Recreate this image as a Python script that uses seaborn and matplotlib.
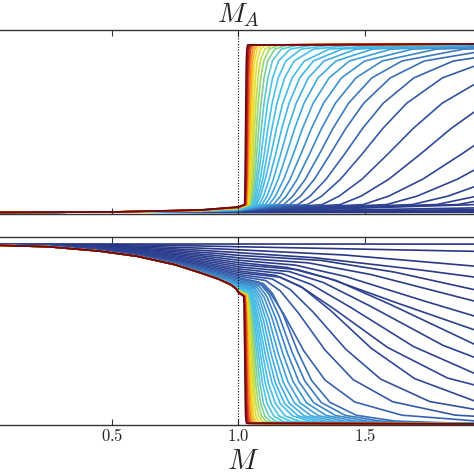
import matplotlib
matplotlib.use("Agg")
import matplotlib.pyplot as plt
import numpy as np
import pandas as pd
import seaborn as sns
from matplotlib.colors import LinearSegmentedColormap
from matplotlib.transforms import blended_transform_factory

# ---- data -----------------------------------------------------------------
# curve 0 = slowest (dark blue) ... curve 39 = sharpest (dark red)
n_curves = 40

# upper panel: shared start, value at M=0.85 and M=1, then the M where each
# curve crosses the levels in top_levels
top_left_m = [0.0, 0.5]
top_left_v = [0.003, 0.006]
top_v085 = [0.003, 0.004, 0.005, 0.005, 0.006, 0.006, 0.007, 0.007, 0.007, 0.008,
            0.008, 0.008, 0.009, 0.009, 0.009, 0.010, 0.010, 0.010, 0.011, 0.011,
            0.011, 0.012, 0.012, 0.012, 0.013, 0.013, 0.013, 0.014, 0.014, 0.014,
            0.015, 0.015, 0.015, 0.016, 0.016, 0.016, 0.017, 0.017, 0.018, 0.018]
top_v1 = [0.003, 0.004, 0.005, 0.006, 0.007, 0.008, 0.008, 0.009, 0.009, 0.010,
          0.010, 0.011, 0.011, 0.012, 0.012, 0.013, 0.013, 0.014, 0.015, 0.016,
          0.017, 0.018, 0.019, 0.020, 0.021, 0.022, 0.023, 0.024, 0.025, 0.026,
          0.027, 0.028, 0.029, 0.030, 0.031, 0.032, 0.033, 0.034, 0.035, 0.036]
top_levels = [0.05, 0.1, 0.2, 0.35, 0.5, 0.65, 0.8, 0.9, 0.97, 0.995]
top_cross = [
    [44.7, 60, 80, 100, 120, 140, 160, 180, 200, 220],
    [22.4, 40, 60, 80, 100, 120, 140, 160, 180, 200],
    [11.5, 20, 30, 40, 50, 60, 70, 80, 90, 100],
    [6.85, 10, 14, 18, 22, 26, 30, 34, 38, 42],
    [4.08, 6, 8, 10, 12, 14, 16, 18, 20, 22],
    [2.775, 3.5, 4.5, 5.5, 6.5, 7.5, 8.5, 9.5, 10.5, 11.5],
    [1.944, 2.137, 2.393, 2.688, 2.970, 3.299, 3.786, 4.412, 5.696, 8.407],
    [1.867, 2.044, 2.280, 2.551, 2.810, 3.112, 3.559, 4.135, 5.315, 7.806],
    [1.783, 1.943, 2.155, 2.400, 2.634, 2.907, 3.310, 3.830, 4.895, 7.144],
    [1.687, 1.828, 2.015, 2.230, 2.435, 2.675, 3.029, 3.485, 4.421, 6.396],
    [1.586, 1.706, 1.865, 2.049, 2.224, 2.428, 2.731, 3.120, 3.918, 5.602],
    [1.493, 1.594, 1.728, 1.883, 2.030, 2.202, 2.456, 2.784, 3.456, 4.873],
    [1.402, 1.485, 1.594, 1.720, 1.840, 1.980, 2.188, 2.455, 3.003, 4.158],
    [1.331, 1.398, 1.488, 1.591, 1.690, 1.805, 1.976, 2.195, 2.645, 3.594],
    [1.273, 1.329, 1.403, 1.489, 1.570, 1.665, 1.806, 1.987, 2.359, 3.143],
    [1.235, 1.283, 1.346, 1.420, 1.490, 1.572, 1.693, 1.849, 2.168, 2.842],
    [1.203, 1.245, 1.300, 1.363, 1.424, 1.495, 1.600, 1.734, 2.011, 2.594],
    [1.179, 1.215, 1.264, 1.320, 1.373, 1.435, 1.527, 1.646, 1.889, 2.402],
    [1.157, 1.189, 1.232, 1.281, 1.328, 1.383, 1.464, 1.568, 1.782, 2.233],
    [1.138, 1.166, 1.204, 1.247, 1.288, 1.336, 1.407, 1.499, 1.687, 2.083],
    [1.121, 1.146, 1.179, 1.217, 1.253, 1.295, 1.358, 1.438, 1.603, 1.951],
    [1.106, 1.128, 1.157, 1.190, 1.222, 1.259, 1.314, 1.385, 1.529, 1.835],
    [1.093, 1.113, 1.138, 1.167, 1.195, 1.228, 1.276, 1.338, 1.465, 1.733],
    [1.082, 1.099, 1.121, 1.147, 1.171, 1.200, 1.242, 1.296, 1.408, 1.643],
    [1.072, 1.087, 1.106, 1.129, 1.150, 1.175, 1.212, 1.260, 1.358, 1.564],
    [1.067, 1.079, 1.096, 1.114, 1.132, 1.152, 1.182, 1.220, 1.296, 1.452],
    [1.061, 1.072, 1.086, 1.102, 1.116, 1.133, 1.157, 1.187, 1.247, 1.367],
    [1.057, 1.066, 1.077, 1.090, 1.102, 1.115, 1.135, 1.158, 1.204, 1.294],
    [1.053, 1.060, 1.070, 1.081, 1.090, 1.101, 1.116, 1.134, 1.169, 1.236],
    [1.049, 1.055, 1.064, 1.072, 1.080, 1.089, 1.101, 1.115, 1.143, 1.193],
    [1.045, 1.051, 1.057, 1.065, 1.071, 1.078, 1.088, 1.100, 1.121, 1.160],
    [1.041, 1.046, 1.052, 1.058, 1.063, 1.069, 1.077, 1.086, 1.104, 1.134],
    [1.039, 1.043, 1.047, 1.052, 1.056, 1.061, 1.067, 1.074, 1.087, 1.109],
    [1.036, 1.039, 1.043, 1.047, 1.050, 1.054, 1.058, 1.064, 1.074, 1.090],
    [1.034, 1.036, 1.039, 1.042, 1.045, 1.048, 1.052, 1.056, 1.064, 1.076],
    [1.031, 1.034, 1.036, 1.039, 1.041, 1.043, 1.047, 1.050, 1.056, 1.066],
    [1.029, 1.031, 1.033, 1.035, 1.037, 1.039, 1.041, 1.044, 1.048, 1.056],
    [1.028, 1.029, 1.031, 1.033, 1.034, 1.035, 1.037, 1.039, 1.043, 1.048],
    [1.026, 1.027, 1.029, 1.030, 1.031, 1.032, 1.034, 1.035, 1.038, 1.042],
    [1.024, 1.025, 1.026, 1.027, 1.028, 1.029, 1.030, 1.031, 1.033, 1.036],
]
top_plateau = (2.2, 1.002)

# lower panel: values for M < 1, value at M=1, then the M where each curve
# falls to the given fraction of its M=1 value
bot_pre_m = [0.0, 0.25, 0.45, 0.6, 0.75, 0.85, 0.92, 0.97, 0.99]
envelope_tail = [0.995, 0.985, 0.961, 0.932, 0.885, 0.840, 0.806, 0.774, 0.752]
bot_pre = [
    [1.0, 1.0, 1.0, 1.0, 1.0, 1.0, 1.0, 1.0, 1.0],
    [0.998, 0.998, 0.997, 0.995, 0.992, 0.989, 0.987, 0.986, 0.985],
    [0.997, 0.997, 0.994, 0.988, 0.982, 0.977, 0.973, 0.970, 0.969],
    [0.996, 0.995, 0.990, 0.983, 0.973, 0.965, 0.959, 0.955, 0.953],
    [0.995, 0.994, 0.987, 0.977, 0.965, 0.954, 0.947, 0.941, 0.938],
    [0.995, 0.994, 0.984, 0.972, 0.957, 0.944, 0.935, 0.928, 0.925],
    [0.995, 0.994, 0.982, 0.968, 0.949, 0.935, 0.924, 0.915, 0.912],
    [0.995, 0.993, 0.979, 0.963, 0.942, 0.926, 0.913, 0.903, 0.899],
    [0.995, 0.993, 0.977, 0.959, 0.935, 0.917, 0.903, 0.892, 0.887],
    [0.995, 0.992, 0.974, 0.954, 0.929, 0.908, 0.893, 0.881, 0.876],
    [0.995, 0.991, 0.972, 0.950, 0.922, 0.900, 0.883, 0.870, 0.865],
    [0.995, 0.991, 0.970, 0.946, 0.916, 0.892, 0.874, 0.860, 0.854],
    [0.995, 0.990, 0.968, 0.943, 0.911, 0.885, 0.865, 0.850, 0.844],
    [0.995, 0.989, 0.966, 0.939, 0.905, 0.878, 0.857, 0.841, 0.834],
    [0.995, 0.989, 0.964, 0.936, 0.900, 0.871, 0.849, 0.833, 0.826],
    [0.995, 0.988, 0.962, 0.933, 0.895, 0.865, 0.842, 0.824, 0.817],
    [0.995, 0.988, 0.961, 0.932, 0.890, 0.859, 0.835, 0.817, 0.809],
    [0.995, 0.987, 0.961, 0.932, 0.886, 0.853, 0.828, 0.809, 0.801],
    [0.995, 0.987, 0.961, 0.932, 0.885, 0.848, 0.822, 0.802, 0.794],
    [0.995, 0.986, 0.961, 0.932, 0.885, 0.843, 0.816, 0.796, 0.787],
    [0.995, 0.986, 0.961, 0.932, 0.885, 0.840, 0.811, 0.790, 0.781],
    [0.995, 0.985, 0.961, 0.932, 0.885, 0.840, 0.806, 0.785, 0.776],
    [0.995, 0.985, 0.961, 0.932, 0.885, 0.840, 0.806, 0.780, 0.771],
    [0.995, 0.985, 0.961, 0.932, 0.885, 0.840, 0.806, 0.776, 0.766],
    [0.995, 0.985, 0.961, 0.932, 0.885, 0.840, 0.806, 0.775, 0.763],
    [0.995, 0.985, 0.961, 0.932, 0.885, 0.840, 0.806, 0.774, 0.760],
    [0.995, 0.985, 0.961, 0.932, 0.885, 0.840, 0.806, 0.774, 0.757],
] + [envelope_tail] * 13
bot_a = [1.0, 0.985, 0.968, 0.952, 0.937, 0.923, 0.910, 0.897, 0.885, 0.873,
         0.862, 0.851, 0.841, 0.831, 0.822, 0.813, 0.805, 0.797, 0.790, 0.783,
         0.777, 0.771, 0.766, 0.760, 0.757, 0.754, 0.751, 0.748, 0.746, 0.744,
         0.742, 0.740, 0.738, 0.736, 0.735, 0.734, 0.733, 0.732, 0.731, 0.730]
bot_fracs = [0.97, 0.9, 0.75, 0.5, 0.3, 0.15, 0.06, 0.02, 0.005]
bot_cross = [
    [60, 80, 100, 120, 140, 160, 180, 200, 220],
    [2.074, 3.518, 6.24, 11.9, 20.2, 35.7, 69.2, 147, 373],
    [1.419, 1.982, 3.044, 5.25, 8.48, 14.5, 27.6, 58.0, 146],
    [1.304, 1.714, 2.486, 4.09, 6.44, 10.83, 20.3, 42.4, 106],
    [1.327, 1.619, 2.073, 2.86, 3.84, 5.43, 8.36, 14.0, 27.2],
    [1.276, 1.523, 1.906, 2.57, 3.40, 4.74, 7.22, 12.0, 23.1],
    [1.225, 1.425, 1.736, 2.276, 2.948, 4.038, 6.052, 9.93, 19.0],
    [1.191, 1.361, 1.626, 2.085, 2.657, 3.583, 5.296, 8.595, 16.3],
    [1.232, 1.387, 1.601, 1.933, 2.309, 2.868, 3.806, 5.426, 8.753],
    [1.201, 1.336, 1.521, 1.809, 2.135, 2.620, 3.433, 4.838, 7.723],
    [1.172, 1.287, 1.445, 1.691, 1.969, 2.383, 3.078, 4.278, 6.742],
    [1.147, 1.244, 1.379, 1.589, 1.826, 2.179, 2.771, 3.794, 5.895],
    [1.165, 1.253, 1.364, 1.525, 1.696, 1.936, 2.314, 2.921, 4.064],
    [1.133, 1.204, 1.294, 1.424, 1.562, 1.756, 2.061, 2.551, 3.475],
    [1.107, 1.165, 1.237, 1.342, 1.453, 1.610, 1.856, 2.251, 2.996],
    [1.081, 1.124, 1.179, 1.258, 1.342, 1.460, 1.646, 1.944, 2.506],
    [1.098, 1.135, 1.178, 1.234, 1.289, 1.361, 1.466, 1.619, 1.879],
    [1.089, 1.122, 1.161, 1.212, 1.262, 1.327, 1.422, 1.561, 1.796],
    [1.081, 1.111, 1.146, 1.193, 1.238, 1.297, 1.383, 1.509, 1.723],
    [1.073, 1.101, 1.133, 1.175, 1.216, 1.269, 1.347, 1.462, 1.656],
    [1.066, 1.091, 1.120, 1.158, 1.196, 1.244, 1.315, 1.419, 1.595],
    [1.060, 1.083, 1.109, 1.144, 1.177, 1.222, 1.286, 1.380, 1.539],
    [1.055, 1.075, 1.099, 1.130, 1.161, 1.201, 1.259, 1.345, 1.489],
    [1.050, 1.068, 1.090, 1.118, 1.146, 1.182, 1.235, 1.313, 1.444],
    [1.045, 1.062, 1.081, 1.107, 1.133, 1.165, 1.213, 1.284, 1.403],
    [1.043, 1.058, 1.075, 1.097, 1.118, 1.146, 1.184, 1.240, 1.333],
    [1.041, 1.055, 1.069, 1.088, 1.106, 1.129, 1.160, 1.206, 1.279],
    [1.040, 1.052, 1.064, 1.080, 1.095, 1.113, 1.139, 1.174, 1.231],
    [1.038, 1.049, 1.059, 1.073, 1.085, 1.099, 1.120, 1.147, 1.190],
    [1.037, 1.046, 1.055, 1.066, 1.076, 1.088, 1.104, 1.126, 1.159],
    [1.035, 1.043, 1.050, 1.060, 1.068, 1.078, 1.091, 1.109, 1.135],
    [1.033, 1.040, 1.046, 1.054, 1.061, 1.069, 1.080, 1.094, 1.115],
    [1.032, 1.037, 1.043, 1.049, 1.055, 1.061, 1.069, 1.080, 1.095],
    [1.030, 1.035, 1.039, 1.045, 1.049, 1.054, 1.060, 1.069, 1.080],
    [1.029, 1.032, 1.036, 1.040, 1.044, 1.048, 1.053, 1.060, 1.069],
    [1.027, 1.030, 1.033, 1.037, 1.040, 1.043, 1.047, 1.052, 1.059],
    [1.025, 1.028, 1.031, 1.033, 1.035, 1.038, 1.041, 1.045, 1.050],
    [1.024, 1.026, 1.028, 1.030, 1.032, 1.034, 1.036, 1.039, 1.043],
    [1.022, 1.024, 1.026, 1.027, 1.029, 1.030, 1.032, 1.034, 1.037],
    [1.021, 1.022, 1.023, 1.025, 1.026, 1.027, 1.028, 1.030, 1.032],
]
bot_floor = (2.2, 0.0)

x_ticks = [0.0, 0.5, 1.0, 1.5, 2.0]
x_tick_labels = ["", "$0.5$", "$1.0$", "$1.5$", ""]

# colours: navy -> cyan -> yellow -> dark red
cmap = LinearSegmentedColormap.from_list("curves", [
    (0.0, "#283583"), (0.30, "#2f4596"), (0.42, "#3a70b8"), (0.52, "#3fa2da"),
    (0.60, "#42b8e6"), (0.70, "#4cc4e4"), (0.76, "#8ed27a"), (0.81, "#d4e034"),
    (0.85, "#f6d81e"), (0.89, "#f8a01c"), (0.93, "#ea4a1c"), (0.965, "#b8141a"),
    (1.0, "#6e0a10")])

sns.set_style("white")
plt.rcParams["mathtext.fontset"] = "cm"
plt.rcParams["font.family"] = ["DejaVu Serif"]


def top_frame():
    rows = []
    for k in range(n_curves):
        ms = top_left_m + [0.85, 1.0] + top_cross[k]
        vs = top_left_v + [top_v085[k], top_v1[k]] + top_levels
        if top_cross[k][-1] < top_plateau[0]:
            ms = ms + [top_plateau[0]]
            vs = vs + [top_plateau[1]]
        rows += [(m, v, f"c{k:02d}") for m, v in zip(ms, vs)]
    return pd.DataFrame(rows, columns=["M", "value", "curve"])


def bottom_frame():
    rows = []
    for k in range(n_curves):
        ms = bot_pre_m + [1.0] + bot_cross[k]
        vs = bot_pre[k] + [bot_a[k]] + [bot_a[k] * f for f in bot_fracs]
        if bot_cross[k][-1] < bot_floor[0]:
            ms = ms + [bot_floor[0]]
            vs = vs + [bot_floor[1]]
        rows += [(m, v, f"c{k:02d}") for m, v in zip(ms, vs)]
    return pd.DataFrame(rows, columns=["M", "value", "curve"])


names = [f"c{k:02d}" for k in range(n_curves)]
palette = {name: cmap(k / (n_curves - 1)) for k, name in enumerate(names)}

fig = plt.figure(figsize=(4.74, 4.74), dpi=100)
ax_top = fig.add_axes([-0.0306, 0.5485, 1.0675, 0.388])
ax_bot = fig.add_axes([-0.0306, 0.1034, 1.0675, 0.3966])

for ax, df, ylim in [(ax_top, top_frame(), (-0.006, 1.083)),
                     (ax_bot, bottom_frame(), (-0.0056, 1.039))]:
    sns.lineplot(data=df, x="M", y="value", hue="curve", hue_order=names,
                 palette=palette, estimator=None, sort=False, legend=False,
                 linewidth=1.2, ax=ax)
    ax.axvline(1.0, color="black", linestyle=(0, (1, 1.5)), linewidth=0.8, zorder=5)
    ax.set_xlim(0.0, 2.0)
    ax.set_ylim(*ylim)
    ax.set_xticks(x_ticks)
    ax.set_yticks([])
    ax.set_xlabel("")
    ax.set_ylabel("")
    ax.tick_params(axis="x", direction="in", top=True, bottom=True, length=4,
                   width=0.8, color="#333333", labelsize=12, pad=2)
    for sp in ax.spines.values():
        sp.set_color("#333333")
        sp.set_linewidth(1.0)

ax_top.set_xticklabels([])
ax_bot.set_xticklabels(x_tick_labels)

trans = blended_transform_factory(ax_top.transData, ax_top.transAxes)
ax_top.text(1.0, 1.043, r"$M_A$", transform=trans, ha="center", va="baseline",
            fontsize=20)
trans_b = blended_transform_factory(ax_bot.transData, ax_bot.transAxes)
ax_bot.text(1.02, -0.232, r"$M$", transform=trans_b, ha="center", va="baseline",
            fontsize=21)

fig.savefig("out.png", dpi=100, facecolor="white")
